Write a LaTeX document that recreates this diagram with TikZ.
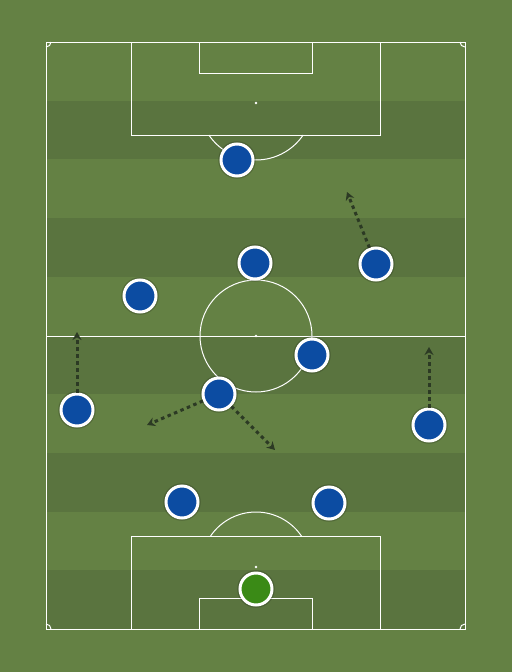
\documentclass[tikz,border=0pt]{standalone}
\usetikzlibrary{arrows.meta}
\definecolor{turf}{RGB}{100,129,68}
\definecolor{turfdark}{RGB}{90,116,63}
\definecolor{shirt}{RGB}{12,76,162}
\definecolor{keeper}{RGB}{58,138,22}
\definecolor{run}{RGB}{44,58,36}
\tikzset{
	player/.style={circle, draw=white, line width=3pt, fill=shirt,
		minimum size=32pt, inner sep=0pt,
		preaction={draw=black, draw opacity=0.18, line width=5.5pt}},
	goalie/.style={player, fill=keeper},
	runarrow/.style={draw=run, line width=3pt, dash pattern=on 3.5pt off 3.5pt,
		-{Stealth[length=8pt,width=9pt]}},
	pitchline/.style={draw=white, line width=1pt},
}
\begin{document}
\begin{tikzpicture}[x=1pt,y=-1pt]
	\useasboundingbox[fill=turf] (0,0) rectangle (512,672);
	% darker stripes
	\foreach \i in {1,3,5,7,9}
		\fill[turfdark] (46,42+\i*58.7) rectangle (465,42+\i*58.7+58.7);

	% touchlines, halfway line, centre circle
	\draw[pitchline] (46,42) rectangle (465,629);
	\draw[pitchline] (46,336) -- (465,336);
	\draw[pitchline] (256,336) circle[radius=56];
	\fill[white] (256,336) circle[radius=1.3];

	% corners
	\draw[pitchline] (46,47) arc[start angle=90, end angle=0, radius=5];
	\draw[pitchline] (460,42) arc[start angle=180, end angle=90, radius=5];
	\draw[pitchline] (46,624) arc[start angle=270, end angle=360, radius=5];
	\draw[pitchline] (460,629) arc[start angle=180, end angle=270, radius=5];

	% top box
	\draw[pitchline] (131,42) -- (131,135) -- (380,135) -- (380,42);
	\draw[pitchline] (199,42) -- (199,73) -- (312,73) -- (312,42);
	\fill[white] (256,103) circle[radius=1.3];
	\draw[pitchline] (256,103) ++(34.2:57) arc[start angle=34.2, end angle=145.8, radius=57];

	% bottom box
	\draw[pitchline] (131,629) -- (131,536) -- (380,536) -- (380,629);
	\draw[pitchline] (199,629) -- (199,598) -- (312,598) -- (312,629);
	\fill[white] (256,567) circle[radius=1.3];
	\draw[pitchline] (256,567) ++(214.3:55) arc[start angle=214.3, end angle=325.7, radius=55];

	% players
	\node[player] (fw)  at (237,160) {};
	\node[player] (amc) at (255,263) {};
	\node[player] (amr) at (376,264) {};
	\node[player] (aml) at (140,296) {};
	\node[player] (mcr) at (312,355) {};
	\node[player] (mcl) at (219,394) {};
	\node[player] (ml)  at (77,410) {};
	\node[player] (mr)  at (429,425) {};
	\node[player] (dcl) at (182,502) {};
	\node[player] (dcr) at (329,503) {};
	\node[goalie] (gk)  at (256,589) {};

	% runs
	\coordinate (amrrun) at (347,192);
	\coordinate (mlrun)  at (77,332);
	\coordinate (mrrun)  at (429,347);
	\coordinate (mclleft)  at (147,425);
	\coordinate (mclright) at (275,450);
	\draw[runarrow] (amr) -- (amrrun);
	\draw[runarrow] (ml) -- (mlrun);
	\draw[runarrow] (mr) -- (mrrun);
	\draw[runarrow] (mcl) -- (mclleft);
	\draw[runarrow] (mcl) -- (mclright);
\end{tikzpicture}
\end{document}
